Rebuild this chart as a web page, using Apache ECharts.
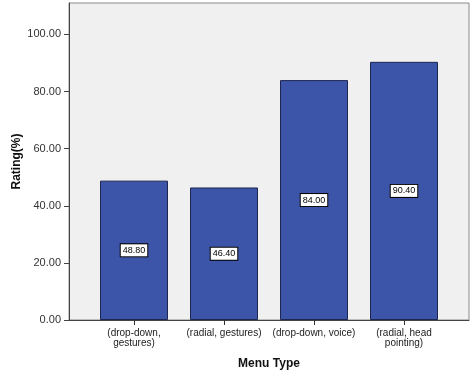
<!DOCTYPE html>
<html><head><meta charset="utf-8">
<script src="https://cdn.jsdelivr.net/npm/echarts@6/dist/echarts.min.js"></script>
<style>html,body{margin:0;padding:0;background:#fff}#c{width:474px;height:379px}</style>
</head><body><div id="c"></div>
<script>
const categories = ['(drop-down,\ngestures)', '(radial, gestures)', '(drop-down, voice)', '(radial, head\npointing)'];
const ratings = [48.80, 46.40, 84.00, 90.40];
const yTicks = [0, 20, 40, 60, 80, 100];

const chart = echarts.init(document.getElementById('c'));
const font = 'Liberation Sans, Arial, sans-serif';
chart.setOption({
  animation: false,
  grid: [
    {left: 89, right: 25, top: 3, bottom: 59},
    {left: 69, right: 5, top: 3, bottom: 59, show: true, backgroundColor: '#f0f0f0', borderColor: '#8a8a8a', borderWidth: 1, z: 0}
  ],
  xAxis: [
    {type: 'category', gridIndex: 0, data: categories,
     axisLine: {show: false},
     axisTick: {show: true, alignWithLabel: true, length: 5, lineStyle: {color: '#333'}},
     axisLabel: {color: '#222', fontFamily: font, fontSize: 10, margin: 8, lineHeight: 10, interval: 0}},
    {type: 'value', gridIndex: 1, min: 0, max: 1,
     axisLine: {show: true, onZero: false, lineStyle: {color: '#444', width: 1}},
     axisTick: {show: false}, axisLabel: {show: false}, splitLine: {show: false},
     name: 'Menu Type', nameLocation: 'middle', nameGap: 38,
     nameTextStyle: {fontFamily: font, fontSize: 12, fontWeight: 'bold', color: '#111'}}
  ],
  yAxis: [
    {type: 'value', gridIndex: 0, min: 0, max: 111, show: false, splitLine: {show: false}},
    {type: 'value', gridIndex: 1, min: 0, max: 111,
     axisLine: {show: true, lineStyle: {color: '#444', width: 1}},
     axisTick: {show: true, length: 5, customValues: yTicks, lineStyle: {color: '#444'}},
     axisLabel: {customValues: yTicks, formatter: v => v.toFixed(2), color: '#333', fontFamily: font, fontSize: 11, margin: 8},
     splitLine: {show: false},
     name: 'Rating(%)', nameLocation: 'middle', nameGap: 46, nameRotate: 90, nameMoveOverlap: false,
     nameTextStyle: {fontFamily: font, fontSize: 12, fontWeight: 'bold', color: '#111'}}
  ],
  series: [{
    type: 'bar', xAxisIndex: 0, yAxisIndex: 0, data: ratings, barWidth: 68, z: 5,
    itemStyle: {color: '#3c55a8', borderColor: '#1d2550', borderWidth: 1},
    label: {show: true, position: 'inside', formatter: p => p.value.toFixed(2),
      color: '#000', fontFamily: font, fontSize: 9, backgroundColor: '#fff',
      borderColor: '#000', borderWidth: 1, padding: [2, 2, 1, 2]}
  }]
});
</script></body></html>
